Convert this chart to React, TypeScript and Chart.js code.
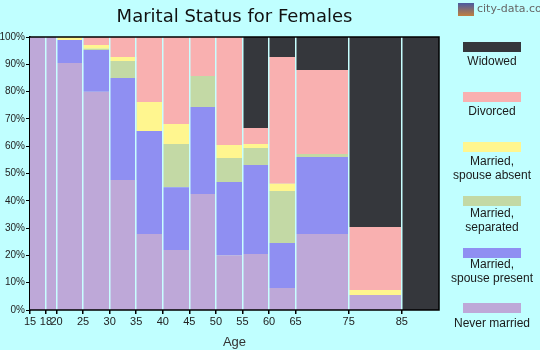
import React, { useEffect, useRef } from "react";
import { Chart, registerables } from "chart.js";

Chart.register(...registerables);

// Age group left edges; last value is the right end of the final group
const ageEdges = [15, 18, 20, 25, 30, 35, 40, 45, 50, 55, 60, 65, 75, 85, 92];
const xTickLabels = [15, 18, 20, 25, 30, 35, 40, 45, 50, 55, 60, 65, 75, 85];

// Percent shares per age group
const neverMarried = [100, 100, 90.5, 79.9, 47.6, 27.8, 22.0, 42.5, 20.1, 20.5, 8.1, 27.8, 5.5, 0];
const spousePresent = [0, 0, 8.4, 15.3, 37.4, 37.8, 23.0, 31.9, 26.8, 32.6, 16.4, 28.2, 0, 0];
const separated = [0, 0, 0, 0.5, 6.2, 0, 15.8, 11.3, 8.8, 6.2, 19.1, 1.1, 0, 0];
const spouseAbsent = [0, 0, 1.1, 1.4, 1.5, 10.6, 7.3, 0, 4.7, 1.5, 2.6, 0, 1.8, 0];
const divorced = [0, 0, 0, 2.9, 7.3, 23.8, 31.9, 14.3, 39.6, 5.9, 46.5, 30.8, 23.1, 0];
const widowed = [0, 0, 0, 0, 0, 0, 0, 0, 0, 33.3, 7.3, 12.1, 69.6, 100];

const seriesNames = [
  "Never married",
  "Married, spouse present",
  "Married, separated",
  "Married, spouse absent",
  "Divorced",
  "Widowed",
];
const legendLabels = [
  ["Widowed"],
  ["Divorced"],
  ["Married,", "spouse absent"],
  ["Married,", "separated"],
  ["Married,", "spouse present"],
  ["Never married"],
];
const seriesColors = ["#bea8d8", "#8f8ff2", "#c3d9a5", "#fff68f", "#f9b0b0", "#35373c"];
const legendColors = ["#35373c", "#f9b0b0", "#fff68f", "#c3d9a5", "#8f8ff2", "#bea8d8"];
const yTicks = [0, 10, 20, 30, 40, 50, 60, 70, 80, 90, 100];

const BG = "#c0ffff";
const SEP = "#c8ffff";

export default function App() {
  const ref = useRef<HTMLCanvasElement | null>(null);

  useEffect(() => {
    if (!ref.current) return;
    const series = [neverMarried, spousePresent, separated, spouseAbsent, divorced, widowed];
    const cum: number[][] = [];
    series.forEach((s, si) => {
      cum.push(s.map((v, i) => (si > 0 ? cum[si - 1][i] : 0) + v));
    });
    const datasets = series.map((_, si) => {
      const vals = cum[si];
      const pts = ageEdges.map((x, i) => ({ x, y: i < vals.length ? vals[i] : vals[vals.length - 1] }));
      return {
        label: seriesNames[si],
        data: pts,
        stepped: true as const,
        fill: si === 0 ? "origin" : "-1",
        backgroundColor: seriesColors[si],
        borderColor: "rgba(0,0,0,0)",
        borderWidth: 0,
        pointRadius: 0,
        pointHoverRadius: 0,
      };
    });

    const overlay = {
      id: "overlay",
      beforeDraw(chart: any) {
        const c = chart.ctx;
        c.save();
        c.fillStyle = BG;
        c.fillRect(0, 0, chart.width, chart.height);
        c.restore();
      },
      afterDraw(chart: any) {
        const c = chart.ctx;
        const a = chart.chartArea;
        c.save();
        c.strokeStyle = "#000";
        c.lineWidth = 1.5;
        c.beginPath();
        c.moveTo(a.left, a.top);
        c.lineTo(a.right, a.top);
        c.lineTo(a.right, a.bottom);
        c.lineTo(a.left, a.bottom);
        c.stroke();
        // title
        c.fillStyle = "#111";
        c.font = "18px 'DejaVu Sans'";
        c.textAlign = "center";
        c.textBaseline = "alphabetic";
        c.fillText("Marital Status for Females", (a.left + a.right) / 2, 22);
        // logo text
        c.fillStyle = "#666";
        c.font = "11px 'DejaVu Sans'";
        c.textAlign = "left";
        c.textBaseline = "middle";
        c.fillText("city-data.com", 477, 9);
        const g = c.createLinearGradient(0, 3, 0, 16);
        g.addColorStop(0, "#4a5aa0");
        g.addColorStop(1, "#c08040");
        c.fillStyle = g;
        c.fillRect(458, 3, 16, 13);
        // legend
        const boxTops = [42, 92, 142, 196, 248, 303];
        const textStarts = [62, 112, 161.5, 213.5, 265, 324];
        c.font = "12px Arial, 'Liberation Sans'";
        c.textAlign = "center";
        c.textBaseline = "middle";
        legendLabels.forEach((lines, i) => {
          c.fillStyle = legendColors[i];
          c.fillRect(463, boxTops[i], 58, 10);
          c.fillStyle = "#1a1a1a";
          lines.forEach((ln, j) => c.fillText(ln, 492, textStarts[i] + j * 14));
        });
        c.restore();
      },
    };

    const chart = new Chart(ref.current, {
      type: "line",
      data: { datasets: datasets as any },
      options: {
        animation: false,
        responsive: false,
        layout: { padding: { top: 37, right: 101, left: 0, bottom: 0 } },
        plugins: { legend: { display: false }, tooltip: { enabled: false }, title: { display: false } },
        scales: {
          x: {
            type: "linear",
            min: 15,
            max: 92,
            afterBuildTicks: (s: any) => {
              s.ticks = xTickLabels.map((v) => ({ value: v }));
            },
            afterFit: (s: any) => {
              s.height = 40;
            },
            ticks: {
              autoSkip: false,
              maxRotation: 0,
              padding: 1,
              color: "#222",
              font: { size: 11, family: "Arial, 'Liberation Sans'" },
              callback: (v: any) => String(v),
            },
            grid: {
              z: 1,
              color: (ctx: any) => (ctx.tick && ctx.tick.value === 15 ? "rgba(0,0,0,0)" : SEP),
              lineWidth: 1.5,
              tickColor: "#000",
              tickLength: 4,
              drawOnChartArea: true,
            },
            border: { display: false },
            title: {
              display: true,
              text: "Age",
              color: "#333",
              font: { size: 13, family: "Arial, 'Liberation Sans'" },
              padding: { top: 2, bottom: 0 },
            },
          },
          y: {
            type: "linear",
            min: 0,
            max: 100,
            afterBuildTicks: (s: any) => {
              s.ticks = yTicks.map((v) => ({ value: v }));
            },
            afterFit: (s: any) => {
              s.width = 30;
            },
            ticks: {
              padding: 1,
              color: "#222",
              font: { size: 10, family: "Arial, 'Liberation Sans'" },
              callback: (v: any) => v + "%",
            },
            grid: { drawOnChartArea: false, tickColor: "#000", tickLength: 4 },
            border: { color: "#000", width: 1.5 },
          },
        },
      },
      plugins: [overlay],
    });
    return () => chart.destroy();
  }, []);

  return (
    <div style={{ position: "fixed", left: 0, top: 0, width: 540, height: 350, background: BG }}>
      <canvas ref={ref} width={540} height={350} style={{ width: 540, height: 350, display: "block" }} />
    </div>
  );
}
